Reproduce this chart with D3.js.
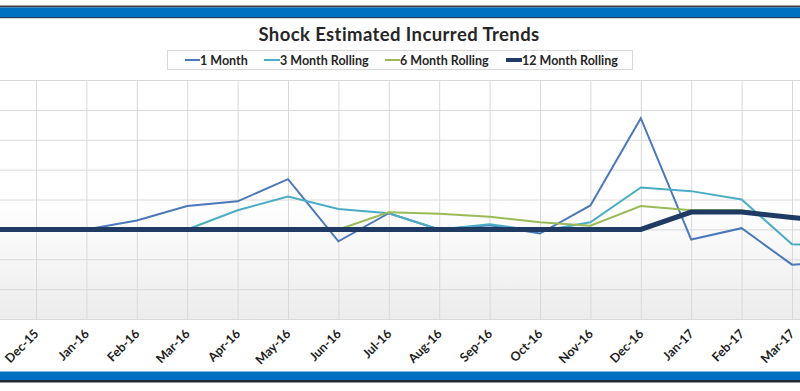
<!DOCTYPE html>
<html><head><meta charset="utf-8">
<script src="https://cdn.jsdelivr.net/npm/d3@7"></script>
<style>body{margin:0;background:#fff} svg{display:block}</style>
</head><body><svg id="c" width="800" height="391"></svg>
<script>
const months = ["Nov-15","Dec-15","Jan-16","Feb-16","Mar-16","Apr-16","May-16","Jun-16","Jul-16","Aug-16","Sep-16","Oct-16","Nov-16","Dec-16","Jan-17","Feb-17","Mar-17","Apr-17"];
const visibleLabels = ["Dec-15","Jan-16","Feb-16","Mar-16","Apr-16","May-16","Jun-16","Jul-16","Aug-16","Sep-16","Oct-16","Nov-16","Dec-16","Jan-17","Feb-17","Mar-17"];
const oneMonth     = [0,0,0,1.5,3.9,4.7,8.4,-2.0,2.7,0,0.7,-0.7,4.0,18.6,-1.7,0.2,-5.9,-5.6];
const threeMonth   = [0,0,0,0,0,3.2,5.5,3.4,2.7,0,0.85,-0.3,1.2,7.0,6.4,5.0,-2.5,-2.8];
const sixMonth     = [0,0,0,0,0,0,0,0,2.85,2.6,2.1,1.2,0.6,3.9,3.2,3.2,2.0,1.2];
const twelveMonth  = [0,0,0,0,0,0,0,0,0,0,0,0,0,0,2.9,2.9,2.0,1.2];
const yTicks = [-15,-10,-5,0,5,10,15,20,25];
const seriesNames = ["1 Month","3 Month Rolling","6 Month Rolling","12 Month Rolling"];
const seriesColors = ["#4a78b9","#4bacc6","#9bbb59","#1f3a63"];
const seriesWidths = [2,2,2,5];
const seriesData = [oneMonth, threeMonth, sixMonth, twelveMonth];

const svg = d3.select("#c");
const FONT = "Lato, 'Noto Sans', sans-serif";
const plotTop = 80, plotBottom = 319;

// frame bands
svg.append("rect").attr("x",0).attr("y",0).attr("width",800).attr("height",391).attr("fill","#fff");
svg.append("rect").attr("x",0).attr("y",5.5).attr("width",800).attr("height",2).attr("fill","#3b3f45");
svg.append("rect").attr("x",0).attr("y",7.5).attr("width",800).attr("height",9.5).attr("fill","#0070c0");
svg.append("rect").attr("x",0).attr("y",17).attr("width",800).attr("height",1).attr("fill","#1c3a5c");
svg.append("rect").attr("x",0).attr("y",18).attr("width",800).attr("height",1).attr("fill","#dcdcdc");
svg.append("rect").attr("x",0).attr("y",371.5).attr("width",800).attr("height",8.5).attr("fill","#0070c0");
svg.append("rect").attr("x",0).attr("y",380).attr("width",800).attr("height",2.5).attr("fill","#1f2a36");

// title
svg.append("text").attr("x",399).attr("y",40.5).attr("text-anchor","middle")
  .attr("font-family",FONT).attr("font-weight",700).attr("font-size",18.5)
  .attr("letter-spacing",0.4).attr("fill","#262626").text("Shock Estimated Incurred Trends");

// scales
const x = d3.scalePoint().domain(months).range([-14.4, 842.4]);
const y = d3.scaleLinear().domain([-15,25]).range([plotBottom, plotTop]);

// plot background gradient
const defs = svg.append("defs");
const grad = defs.append("linearGradient").attr("id","bg").attr("x1",0).attr("x2",0).attr("y1",0).attr("y2",1);
grad.append("stop").attr("offset","0%").attr("stop-color","#ffffff");
grad.append("stop").attr("offset","50%").attr("stop-color","#ffffff");
grad.append("stop").attr("offset","100%").attr("stop-color","#ececec");
svg.append("rect").attr("x",0).attr("y",plotTop).attr("width",800).attr("height",plotBottom-plotTop).attr("fill","url(#bg)");

// gridlines
const gy = svg.append("g").attr("transform","translate(-20,0)")
  .call(d3.axisLeft(y).tickValues(yTicks).tickSize(-860).tickFormat(""));
gy.select(".domain").remove();
gy.selectAll("line").attr("stroke","#d9d9d9").attr("stroke-width",1);
const gx = svg.append("g").attr("transform",`translate(0,${plotBottom})`)
  .call(d3.axisBottom(x).tickSize(-(plotBottom-plotTop)).tickFormat(""));
gx.select(".domain").remove();
gx.selectAll("line").attr("stroke","#d9d9d9").attr("stroke-width",1);

// lines
const line = d3.line().x((d,i)=>x(months[i])).y(d=>y(d));
seriesData.forEach((s,k)=>{
  svg.append("path").datum(s).attr("d",line).attr("fill","none")
    .attr("stroke",seriesColors[k]).attr("stroke-width",seriesWidths[k])
    .attr("stroke-linejoin","miter");
});

// x labels
const ax = svg.append("g").attr("transform",`translate(0,${plotBottom})`)
  .call(d3.axisBottom(x).tickValues(visibleLabels).tickSize(0));
ax.select(".domain").remove();
ax.selectAll("text").attr("font-family",FONT).attr("font-weight",700).attr("font-size",12.5)
  .attr("fill","#1e1e1e").attr("text-anchor","end").attr("y",0).attr("dy",0)
  .attr("transform","translate(3,15.5) rotate(-45)");

// legend
svg.append("rect").attr("x",167.5).attr("y",50.5).attr("width",465).attr("height",19)
  .attr("fill","#fff").attr("stroke","#d9d9d9").attr("stroke-width",1);
const legX = [185, 264, 385, 506];
const legW = [15, 16, 15, 16];
seriesNames.forEach((n,k)=>{
  svg.append("line").attr("x1",legX[k]).attr("x2",legX[k]+legW[k]).attr("y1",60).attr("y2",60)
    .attr("stroke",seriesColors[k]).attr("stroke-width",k===3?4:2);
  svg.append("text").attr("x",legX[k]+legW[k]).attr("y",64.5)
    .attr("font-family",FONT).attr("font-weight",700).attr("font-size",12.5)
    .attr("fill","#262626").text(n);
});
</script></body></html>
